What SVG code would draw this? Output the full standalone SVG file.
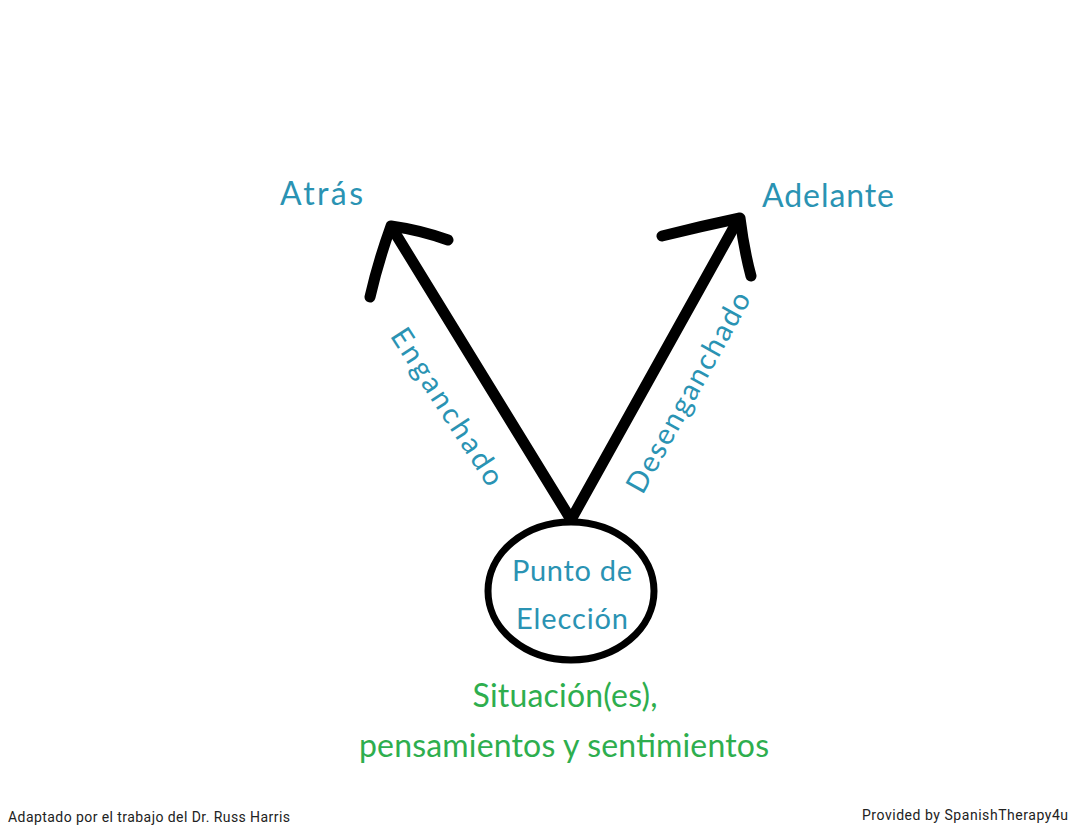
<svg xmlns="http://www.w3.org/2000/svg" width="1080" height="834" viewBox="0 0 1080 834">
<style>
.t{font-family:"Lato","Open Sans",sans-serif;fill:#2a93b3;}
.g{font-family:"Lato","Open Sans",sans-serif;fill:#2eae4e;}
.f{font-family:"Roboto","Liberation Sans",sans-serif;fill:#222;font-size:14px;}
.ln{fill:none;stroke:#000;stroke-width:11;stroke-linecap:round;stroke-linejoin:round;}
</style>
<rect width="1080" height="834" fill="#fff"/>
<g id="connectors">
<path class="ln" d="M570,518 L392,228"/>
<path class="ln" d="M448,240 Q420,230 391,226 Q378,262 370,297"/>
<path class="ln" d="M572,518 L738,220"/>
<path class="ln" d="M662,236 Q702,226 740,218 Q744,250 751,276"/>
</g>
<g id="node-atras"><text class="t" x="280" y="205" font-size="32" textLength="83">Atrás</text></g>
<g id="node-adelante"><text class="t" x="762" y="207" font-size="32" textLength="132">Adelante</text></g>
<g id="label-enganchado"><text class="t" font-size="29" text-anchor="middle" transform="translate(439,412) rotate(57)" textLength="182">Enganchado</text></g>
<g id="label-desenganchado"><text class="t" font-size="29" text-anchor="middle" transform="translate(697,397) rotate(-61)" textLength="225">Desenganchado</text></g>
<g id="node-punto">
<ellipse cx="571" cy="591" rx="83" ry="69" fill="none" stroke="#000" stroke-width="7"/>
<text class="t" x="572" y="581" font-size="29" text-anchor="middle" textLength="120">Punto de</text>
<text class="t" x="572" y="629" font-size="29" text-anchor="middle" textLength="112">Elección</text>
</g>
<g id="node-situacion">
<text class="g" x="565" y="707" font-size="32" text-anchor="middle" textLength="185">Situación(es),</text>
<text class="g" x="564" y="757" font-size="32" text-anchor="middle" textLength="410">pensamientos y sentimientos</text>
</g>
<g id="footer">
<text class="f" x="8" y="822" textLength="282">Adaptado por el trabajo del Dr. Russ Harris</text>
<text class="f" x="862" y="820" textLength="206">Provided by SpanishTherapy4u</text>
</g>
</svg>
